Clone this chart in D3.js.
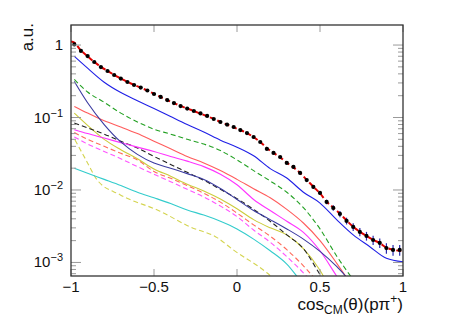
<!DOCTYPE html>
<html><head><meta charset="utf-8">
<script src="https://cdn.jsdelivr.net/npm/d3@7"></script>
<style>body{margin:0;background:#fff;}svg{display:block;font-family:"Liberation Sans",Arial,sans-serif;}</style>
</head><body><svg id="c" width="474" height="331"></svg>
<script>
// ---- data ----
const binCenters = [-0.98,-0.94,-0.90,-0.86,-0.82,-0.78,-0.74,-0.70,-0.66,-0.62,-0.58,-0.54,-0.50,-0.46,-0.42,-0.38,-0.34,-0.30,-0.26,-0.22,-0.18,-0.14,-0.10,-0.06,-0.02,0.02,0.06,0.10,0.14,0.18,0.22,0.26,0.30,0.34,0.38,0.42,0.46,0.50,0.54,0.58,0.62,0.66,0.70,0.74,0.78,0.82,0.86,0.90,0.94,0.98];
const dataValues = [1.02,0.83,0.705,0.583,0.497,0.438,0.386,0.345,0.309,0.281,0.259,0.236,0.211,0.192,0.174,0.158,0.144,0.133,0.123,0.114,0.105,0.0953,0.0867,0.080,0.074,0.067,0.061,0.0538,0.0459,0.0368,0.0324,0.0285,0.0236,0.0208,0.0172,0.0137,0.0110,0.0091,0.00683,0.00565,0.00467,0.00374,0.00309,0.00264,0.00232,0.00204,0.00186,0.00158,0.00149,0.00149];
const dataErrors = [0.02,0.015,0.012,0.01,0.008,0.007,0.006,0.005,0.0045,0.004,0.0038,0.0035,0.003,0.0028,0.0026,0.0024,0.0022,0.002,0.0019,0.0018,0.0017,0.0016,0.0015,0.0014,0.0014,0.0013,0.0012,0.0012,0.0011,0.0011,0.001,0.001,0.0009,0.0009,0.0008,0.0007,0.0006,0.0006,0.0005,0.0005,0.00045,0.0004,0.00038,0.00035,0.00032,0.0003,0.00028,0.00026,0.00025,0.00025];
const totalFit = [1.08,0.84,0.70,0.585,0.50,0.44,0.388,0.345,0.31,0.281,0.258,0.235,0.212,0.192,0.174,0.158,0.145,0.133,0.123,0.113,0.104,0.0955,0.087,0.080,0.073,0.067,0.061,0.0535,0.046,0.038,0.0325,0.0282,0.0238,0.0205,0.0172,0.0138,0.0111,0.0090,0.0069,0.0057,0.0047,0.0038,0.0031,0.00265,0.00232,0.00205,0.00185,0.0016,0.0015,0.00145];

// component curves, sampled on a common grid (values below the axis minimum are clipped)
const compGrid    = [-0.98,-0.9,-0.8,-0.7,-0.6,-0.5,-0.4,-0.3,-0.2,-0.1,0,0.1,0.2,0.3,0.4,0.5,0.6,0.7,0.8,0.9,1.0];
const compBlue    = [0.70,0.48,0.307,0.221,0.170,0.133,0.103,0.080,0.063,0.0486,0.0388,0.0296,0.0197,0.0146,0.0093,0.0066,0.0039,0.0024,0.00165,0.00114,0.00102];
const compGreen   = [0.335,0.225,0.162,0.115,0.087,0.069,0.059,0.050,0.043,0.035,0.026,0.0185,0.0133,0.0093,0.0057,0.0029,0.00123,0.00058,0.0003,0.0002,0.0001];
const compNavy    = [0.315,0.16,0.08,0.046,0.031,0.0235,0.0200,0.0168,0.0140,0.0105,0.0074,0.0052,0.0039,0.0029,0.0021,0.00142,0.00088,0.0005,0.0003,0.0002,0.0001];
const compSalmon  = [0.142,0.115,0.090,0.074,0.060,0.047,0.037,0.029,0.0235,0.0185,0.0140,0.0104,0.0078,0.0054,0.0035,0.0020,0.00098,0.00045,0.0002,0.0001,0.0001];
const compMagenta = [0.068,0.060,0.052,0.045,0.039,0.034,0.029,0.025,0.021,0.0165,0.0118,0.0074,0.0052,0.0037,0.0026,0.00145,0.00065,0.0003,0.0002,0.0001,0.0001];
const compBlackD  = [0.084,0.072,0.059,0.047,0.038,0.029,0.0225,0.0175,0.0136,0.0102,0.0076,0.0054,0.0037,0.0024,0.00155,0.00068,0.0003,0.0002,0.0001,0.0001,0.0001];
const compYellow  = [0.115,0.078,0.050,0.036,0.027,0.0195,0.0155,0.012,0.0097,0.0075,0.0055,0.0039,0.0030,0.0024,0.00155,0.00078,0.0003,0.0002,0.0001,0.0001,0.0001];
const compOrangeD = [0.062,0.050,0.040,0.032,0.026,0.018,0.0145,0.0115,0.0090,0.0068,0.0048,0.0033,0.0023,0.0015,0.0009,0.0005,0.0003,0.0002,0.0001,0.0001,0.0001];
const compPinkD   = [0.054,0.043,0.034,0.027,0.021,0.0165,0.0130,0.0102,0.0080,0.0060,0.0043,0.0028,0.0019,0.0012,0.00072,0.0004,0.0002,0.0001,0.0001,0.0001,0.0001];
const compCyan    = [0.020,0.017,0.0140,0.0115,0.0093,0.0078,0.0065,0.0053,0.0045,0.0037,0.0029,0.0021,0.00145,0.00095,0.0005,0.0003,0.0002,0.0001,0.0001,0.0001,0.0001];
const compYellowDX= [-0.976,-0.91,-0.843,-0.705,-0.464,-0.283,-0.12,-0.024,0.18,0.3];
const compYellowD = [0.049,0.026,0.0138,0.0086,0.0051,0.0031,0.0022,0.0015,0.00072,0.0004];

const xTickValues = [-1,-0.5,0,0.5,1];
const xTickLabels = ["\u22121","\u22120.5","0","0.5","1"];
const yTickExps = [0,-1,-2,-3];

// ---- layout ----
const svg = d3.select("#c");
const L=71,T=25,R=403,B=276;
const x = d3.scaleLinear().domain([-1,1]).range([L,R]);
const y = d3.scaleLog().domain([6.5e-4,1.89]).range([B,T]);

const comps = [
  {xs:compYellowDX,ys:compYellowD,c:"#d4d450",d:"5,3"},
  {xs:compGrid,ys:compCyan,c:"#33cccc",d:null},
  {xs:compGrid,ys:compOrangeD,c:"#ff6a5a",d:"5,3"},
  {xs:compGrid,ys:compPinkD,c:"#ff55ff",d:"5,3"},
  {xs:compGrid,ys:compYellow,c:"#cccc3a",d:null},
  {xs:compGrid,ys:compBlackD,c:"#222222",d:"5,3"},
  {xs:compGrid,ys:compMagenta,c:"#ff33ff",d:null},
  {xs:compGrid,ys:compSalmon,c:"#ff5c5c",d:null},
  {xs:compGrid,ys:compNavy,c:"#3a3aa0",d:null},
  {xs:compGrid,ys:compGreen,c:"#22a022",d:"5,3"},
  {xs:compGrid,ys:compBlue,c:"#1f1fe6",d:null},
];
svg.append("defs").append("clipPath").attr("id","clip").append("rect").attr("x",L).attr("y",T).attr("width",R-L).attr("height",B-T);
const g = svg.append("g").attr("clip-path","url(#clip)");
const line = d3.line().x(d=>x(d[0])).y(d=>y(d[1])).curve(d3.curveMonotoneX);
comps.forEach(c=>{
  g.append("path").attr("d",line(c.xs.map((v,i)=>[v,c.ys[i]]))).attr("fill","none")
   .attr("stroke",c.c).attr("stroke-width",1.1).attr("stroke-dasharray",c.d);
});
// data error bars
binCenters.forEach((bx,i)=>{
  g.append("line").attr("x1",x(bx)).attr("x2",x(bx)).attr("y1",y(dataValues[i]+dataErrors[i])).attr("y2",y(Math.max(dataValues[i]-dataErrors[i],1e-5)))
   .attr("stroke","#2a2ab0").attr("stroke-width",1.2);
});
// total fit
const fitPts = binCenters.map((bx,i)=>[bx,totalFit[i]]);
fitPts.unshift([-1,1.12]); fitPts.push([1,0.00145]);
g.append("path").attr("d",line(fitPts)).attr("fill","none").attr("stroke","#e00000").attr("stroke-width",2).attr("stroke-dasharray","5,3");
// data points
g.selectAll("circle").data(binCenters).join("circle").attr("cx",d=>x(d)).attr("cy",(d,i)=>y(dataValues[i])).attr("r",2.1).attr("fill","#000");

// ---- axes ----
const tickCol="#9a9a9a";
const minor=[];
for(let e=-4;e<=0;e++) for(let m=1;m<=9;m++){const v=m*Math.pow(10,e); if(v>=6.5e-4&&v<=1.89) minor.push(v);}
minor.forEach(v=>{
  const major = Math.abs(Math.log10(v)-Math.round(Math.log10(v)))<1e-9;
  const len = major?10:5;
  svg.append("line").attr("x1",L).attr("x2",L+len).attr("y1",y(v)).attr("y2",y(v)).attr("stroke",tickCol).attr("stroke-width",1);
  svg.append("line").attr("x1",R).attr("x2",R-len).attr("y1",y(v)).attr("y2",y(v)).attr("stroke",tickCol).attr("stroke-width",1);
});
xTickValues.forEach(v=>{
  svg.append("line").attr("x1",x(v)).attr("x2",x(v)).attr("y1",B).attr("y2",B-7).attr("stroke",tickCol);
  svg.append("line").attr("x1",x(v)).attr("x2",x(v)).attr("y1",T).attr("y2",T+7).attr("stroke",tickCol);
});
svg.append("rect").attr("x",L).attr("y",T).attr("width",R-L).attr("height",B-T).attr("fill","none").attr("stroke","#333").attr("stroke-width",1.3);

xTickValues.forEach((v,i)=>{
  svg.append("text").attr("x",x(v)).attr("y",292).attr("text-anchor","middle").attr("font-size",15).attr("fill","#111").text(xTickLabels[i]);
});
yTickExps.forEach(e=>{
  const t = svg.append("text").attr("x",63).attr("y",y(Math.pow(10,e))+5).attr("text-anchor","end").attr("font-size",15).attr("fill","#111");
  if(e===0){t.text("1");}
  else {t.append("tspan").text("10"); t.append("tspan").attr("dy",-6).attr("font-size",11).text("\u2212"+(-e));}
});
const xt = svg.append("text").attr("x",403).attr("y",310).attr("text-anchor","end").attr("font-size",17).attr("fill","#111");
xt.append("tspan").text("cos");
xt.append("tspan").attr("dy",4).attr("font-size",12).text("CM");
xt.append("tspan").attr("dy",-4).text("(\u03b8)(p\u03c0");
xt.append("tspan").attr("dy",-7).attr("font-size",12).text("+");
xt.append("tspan").attr("dy",7).text(")");
svg.append("text").attr("transform","translate(33,23) rotate(-90)").attr("text-anchor","end").attr("font-size",17).attr("fill","#111").text("a.u.");
</script></body></html>
